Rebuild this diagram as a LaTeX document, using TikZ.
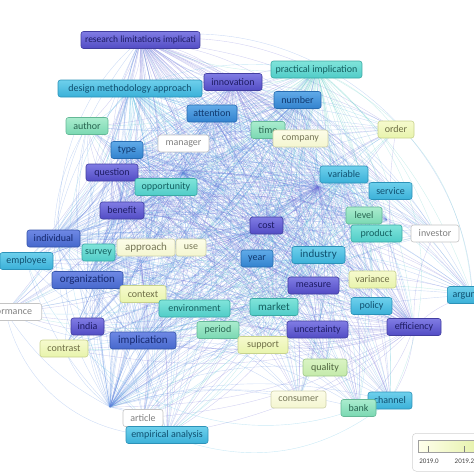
\documentclass[tikz,border=0pt]{standalone}
\usepackage{fontspec}
\setmainfont{Carlito}
\usetikzlibrary{backgrounds}
\definecolor{ePc}{HTML}{6E6CD4}
\definecolor{eBc}{HTML}{5A8CE0}
\definecolor{eCc}{HTML}{4EB8E0}
\definecolor{eTc}{HTML}{60CCC4}
\begin{document}
\begin{tikzpicture}[x=1pt,y=-1pt,
  kw/.style={rounded corners=2.5pt, line width=0.6pt, inner sep=0pt, minimum height=17,
    font=\fontsize{10}{10}\selectfont},
  big/.style={font=\fontsize{11}{11}\selectfont},
  cP/.style={top color={rgb,255:red,128;green,124;blue,228}, bottom color={rgb,255:red,82;green,76;blue,196}, draw={rgb,255:red,66;green,62;blue,160}, text={rgb,255:red,30;green,28;blue,100}},
  cPB/.style={top color={rgb,255:red,110;green,136;blue,228}, bottom color={rgb,255:red,70;green,104;blue,204}, draw={rgb,255:red,54;green,84;blue,170}, text={rgb,255:red,22;green,40;blue,110}},
  cB/.style={top color={rgb,255:red,96;green,170;blue,232}, bottom color={rgb,255:red,50;green,130;blue,206}, draw={rgb,255:red,40;green,108;blue,176}, text={rgb,255:red,16;green,56;blue,110}},
  cC/.style={top color={rgb,255:red,110;green,208;blue,236}, bottom color={rgb,255:red,58;green,176;blue,216}, draw={rgb,255:red,44;green,146;blue,184}, text={rgb,255:red,16;green,80;blue,112}},
  cT/.style={top color={rgb,255:red,128;green,228;blue,218}, bottom color={rgb,255:red,80;green,204;blue,200}, draw={rgb,255:red,60;green,170;blue,164}, text={rgb,255:red,20;green,96;blue,96}},
  cG/.style={top color={rgb,255:red,170;green,236;blue,206}, bottom color={rgb,255:red,122;green,216;blue,178}, draw={rgb,255:red,100;green,184;blue,150}, text={rgb,255:red,40;green,100;blue,80}},
  cL/.style={top color={rgb,255:red,218;green,244;blue,196}, bottom color={rgb,255:red,196;green,234;blue,170}, draw={rgb,255:red,160;green,200;blue,136}, text={rgb,255:red,80;green,100;blue,64}},
  cY/.style={top color={rgb,255:red,246;green,250;blue,206}, bottom color={rgb,255:red,232;green,244;blue,172}, draw={rgb,255:red,200;green,210;blue,140}, text={rgb,255:red,110;green,110;blue,70}},
  cW/.style={top color={rgb,255:red,252;green,252;blue,232}, bottom color={rgb,255:red,244;green,246;blue,208}, draw={rgb,255:red,208;green,210;blue,170}, text={rgb,255:red,120;green,120;blue,90}},
  whitebox/.style={fill=white, draw={rgb,255:red,196;green,196;blue,196}, text={rgb,255:red,128;green,128;blue,128}},
  ed/.style={line width=0.4pt, opacity=0.3}
]
\useasboundingbox (0,0) rectangle (474,474);
\clip (0,0) rectangle (474,474);

% hidden items
\coordinate (h1) at (110,407);
\coordinate (h2) at (318,187);
\coordinate (h3) at (183,173);
\coordinate (h4) at (387,220);

\node[kw,cP,minimum width=119,font=\fontsize{9.5}{9.5}\selectfont] (rl) at (140.5,40) {research limitations implicati};
\node[kw,cC,minimum width=144] (dma) at (130,88.5) {design methodology approach};
\node[kw,cP,minimum width=58] (innovation) at (233,82) {innovation};
\node[kw,cB,minimum width=50] (attention) at (212,113.5) {attention};
\node[kw,cT,minimum width=91] (pi) at (316.5,69.5) {practical implication};
\node[kw,cB,minimum width=47] (number) at (297.5,100) {number};
\node[kw,cG,minimum width=34] (time) at (268,130) {time};
\node[kw,cW,minimum width=55] (company) at (300.5,138.5) {company};
\node[kw,cY,minimum width=36] (order) at (396,129.5) {order};
\node[kw,cG,minimum width=42] (author) at (87,126) {author};
\node[kw,whitebox,minimum width=51] (manager) at (183.5,143.5) {manager};
\node[kw,cB,minimum width=32] (type) at (127,150) {type};
\node[kw,cP,minimum width=52] (question) at (112,172.5) {question};
\node[kw,cT,minimum width=62] (opportunity) at (166,187) {opportunity};
\node[kw,cP,minimum width=44] (benefit) at (122,210.5) {benefit};
\node[kw,cPB,minimum width=53] (individual) at (53.5,238.5) {individual};
\node[kw,cT,minimum width=33] (survey) at (98.5,252.5) {survey};
\node[kw,cW,minimum width=58,big] (approach) at (146,247.5) {approach};
\node[kw,cW,minimum width=30] (use) at (191,247.5) {use};
\node[kw,cC,minimum width=53] (employee) at (26.5,261) {employee};
\node[kw,cPB,minimum width=71,big] (organization) at (87.5,280) {organization};
\node[kw,cY,minimum width=46] (context) at (143,294) {context};
\node[kw,cT,minimum width=71] (environment) at (194.5,308.5) {environment};
\node[kw,whitebox,minimum width=72,anchor=east] (performance) at (42,312) {performance};
\node[kw,cP,minimum width=33] (india) at (87.5,326.5) {india};
\node[kw,cPB,minimum width=66,big] (implication) at (143,340.5) {implication};
\node[kw,cY,minimum width=48] (contrast) at (64,348.5) {contrast};
\node[kw,cG,minimum width=42] (period) at (218,330) {period};
\node[kw,cY,minimum width=50] (support) at (263,345) {support};
\node[kw,cT,minimum width=48,big] (market) at (274,307) {market};
\node[kw,cP,minimum width=61] (uncertainty) at (317.5,329.5) {uncertainty};
\node[kw,cC,minimum width=41] (policy) at (371.5,306) {policy};
\node[kw,cP,minimum width=54] (efficiency) at (414,327) {efficiency};
\node[kw,cC,minimum width=50,anchor=west] (argument) at (447,295) {argument};
\node[kw,cL,minimum width=44] (quality) at (325,367.5) {quality};
\node[kw,cW,minimum width=55] (consumer) at (298.5,399.5) {consumer};
\node[kw,cC,minimum width=44] (channel) at (390,400.5) {channel};
\node[kw,cG,minimum width=35] (bank) at (358.5,408) {bank};
\node[kw,whitebox,minimum width=40] (article) at (143,418) {article};
\node[kw,cC,minimum width=82] (empirical) at (167,435) {empirical analysis};
\node[kw,cC,minimum width=48] (variable) at (344,174.5) {variable};
\node[kw,cC,minimum width=43] (service) at (390.5,191) {service};
\node[kw,cG,minimum width=36] (level) at (364,215.5) {level};
\node[kw,cT,minimum width=51] (product) at (376.5,233.5) {product};
\node[kw,whitebox,minimum width=48] (investor) at (435,233.5) {investor};
\node[kw,cP,minimum width=33] (cost) at (266.5,225.5) {cost};
\node[kw,cB,minimum width=32] (year) at (257,258.5) {year};
\node[kw,cC,minimum width=53,big] (industry) at (318.5,255) {industry};
\node[kw,cP,minimum width=51] (measure) at (313.5,285.5) {measure};
\node[kw,cY,minimum width=47] (variance) at (372.5,279.5) {variance};

% legend
\node[draw={rgb,255:red,210;green,210;blue,210}, fill=white, rounded corners=4pt, minimum width=80, minimum height=38, anchor=north west, line width=0.5pt] (legend) at (412,433) {};
\node[draw={rgb,255:red,160;green,160;blue,160}, left color={rgb,255:red,255;green,255;blue,236}, right color={rgb,255:red,226;green,240;blue,160}, minimum width=70, minimum height=12, inner sep=0pt, anchor=north west, line width=0.4pt] (bar) at (418,440) {};
\coordinate (t1a) at (428,446); \coordinate (t1b) at (428,452);
\coordinate (t2a) at (464,446); \coordinate (t2b) at (464,452);
\draw[line width=0.4pt, gray] (t1a) -- (t1b) (t2a) -- (t2b);
\node[font=\fontsize{7}{7}\selectfont, text={rgb,255:red,70;green,70;blue,70}, inner sep=0pt] (l1) at (429,461) {2019.0};
\node[font=\fontsize{7}{7}\selectfont, text={rgb,255:red,70;green,70;blue,70}, inner sep=0pt, anchor=west] (l2) at (454.5,461) {2019.2};

\begin{scope}[on background layer]
\foreach \h/\c in {rl/ePc, dma/eCc, pi/eTc, innovation/ePc, attention/eBc, number/eBc, variable/eCc, h3/eBc, h1/eBc, implication/eBc, organization/eBc, measure/ePc, cost/ePc, efficiency/ePc, industry/eCc, market/eTc, type/eBc, question/ePc, h2/ePc, benefit/ePc, individual/eBc}{
  \foreach \t in {rl,dma,innovation,attention,pi,number,time,company,order,author,manager,type,question,opportunity,benefit,individual,survey,approach,use,employee,organization,context,environment,performance,india,implication,contrast,period,support,market,uncertainty,policy,efficiency,argument,quality,consumer,channel,bank,article,empirical,variable,service,level,product,investor,cost,year,industry,measure,variance,h1,h2,h3,h4}{
    \edef\ta{\h}\edef\tb{\t}%
    \ifx\ta\tb\else
      \draw[ed,draw=\c] (\h.center) to[bend left=14] (\t.center);
    \fi
  }
}
\draw[ed,draw=eBc] (rl.center) to[bend left=50] (argument.center);
\draw[ed,draw=eBc] (rl.center) to[bend right=55] (empirical.center);
\draw[ed,draw=eCc] (dma.center) to[bend right=50] (empirical.center);
\draw[ed,draw=eCc] (empirical.center) to[bend right=30] (channel.center);
\draw[ed,draw=eTc] (pi.center) to[bend left=40] (channel.center);
\draw[ed,draw=eTc] (pi.center) to[bend left=30] (argument.center);
\draw[ed,draw=eBc] (performance.center) to[bend right=40] (empirical.center);
\draw[ed,draw=eCc] (employee.center) to[bend right=45] (bank.center);
\end{scope}
\end{tikzpicture}
\end{document}
